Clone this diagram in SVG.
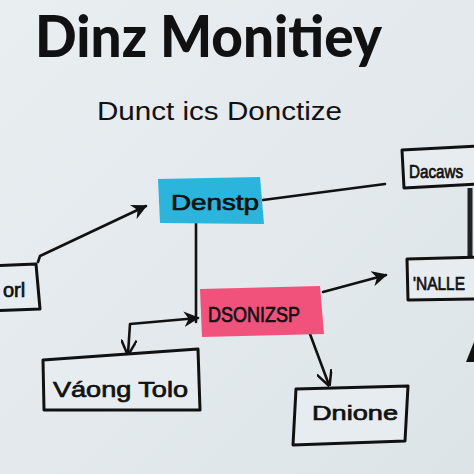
<svg xmlns="http://www.w3.org/2000/svg" width="474" height="474" viewBox="0 0 474 474">
<defs>
<linearGradient id="bg" x1="0" y1="0" x2="1" y2="1">
<stop offset="0" stop-color="#e9eef1"/>
<stop offset="1" stop-color="#dde4e8"/>
</linearGradient>
<marker id="ah" viewBox="0 0 10 10" refX="9" refY="5" markerWidth="6" markerHeight="6" orient="auto-start-reverse">
<path d="M0,0 L10,5 L0,10 L3,5 Z" fill="#111"/>
</marker>
<marker id="av" viewBox="0 0 10 10" refX="9" refY="5" markerWidth="6" markerHeight="6" orient="auto-start-reverse">
<path d="M0,0 L10,5 L0,10" fill="none" stroke="#111" stroke-width="1.6"/>
</marker>
</defs>
<style>
.hand{font-family:"Liberation Sans","DejaVu Sans",sans-serif;fill:#111;stroke:#111;stroke-width:0.7;}
.box{fill:#e6ecef;stroke:#111;stroke-width:3;stroke-linejoin:round;}
.ln{fill:none;stroke:#111;stroke-width:2.6;stroke-linecap:round;stroke-linejoin:round;}
</style>
<rect width="474" height="474" fill="url(#bg)"/>
<text x="35" y="57" font-family="Lato,'Liberation Sans',sans-serif" font-weight="900" font-size="57" fill="#111" textLength="347" lengthAdjust="spacingAndGlyphs">Dinz Monitiey</text>
<text x="97" y="120" font-family="'Liberation Sans','DejaVu Sans',sans-serif" fill="#111" font-size="25" textLength="245" lengthAdjust="spacingAndGlyphs">Dunct ics Donctize</text>
<g id="connectors">
<path class="ln" d="M263,200 L385,184"/>
<path class="ln" d="M196,222 L196,322"/>
<path class="ln" d="M38,262 L40,256 L146,206" marker-end="url(#ah)"/>
<path class="ln" d="M323,292 L386,275" marker-end="url(#ah)"/>
<path class="ln" d="M128,354 L130,324 L198,318" marker-start="url(#av)" marker-end="url(#ah)"/>
<path class="ln" d="M310,334 L329,385" marker-end="url(#av)"/>
<path d="M470,188 L470,258" stroke="#222" stroke-width="5"/>
</g>
<g id="n-denstp">
<path d="M158,179 L260,177 L264,224 L160,223 Z" fill="#2bb5dc"/>
<text class="hand" x="171" y="210" font-size="22" textLength="88" lengthAdjust="spacingAndGlyphs">Denstp</text>
</g>
<g id="n-dsonizsp">
<path d="M200,289 L320,286 L324,334 L202,337 Z" fill="#f1527c"/>
<text class="hand" x="208" y="322" font-size="22" textLength="92" lengthAdjust="spacingAndGlyphs">DSONIZSP</text>
</g>
<g id="n-dacaws">
<path class="box" d="M402,150 L480,146 L480,184 L404,188 Z"/>
<text class="hand" x="409" y="178" font-size="18" textLength="54" lengthAdjust="spacingAndGlyphs">Dacaws</text>
</g>
<g id="n-nalle">
<path class="box" d="M407,259 L480,257 L480,299 L408,300 Z"/>
<text class="hand" x="413" y="290" font-size="18" textLength="52" lengthAdjust="spacingAndGlyphs">'NALLE</text>
</g>
<g id="n-orl">
<path class="box" d="M-10,266 L36,264 L40,309 L-10,311 Z"/>
<text class="hand" x="3" y="297" font-size="20">orl</text>
</g>
<g id="n-vaong">
<path class="box" d="M43,360 L198,349 L200,410 L44,410 Z"/>
<text class="hand" x="53" y="397" font-size="22" textLength="135" lengthAdjust="spacingAndGlyphs">Váong Tolo</text>
</g>
<g id="n-dnione">
<path class="box" d="M296,389 L408,386 L405,441 L293,445 Z"/>
<text class="hand" x="312" y="420" font-size="21" textLength="86" lengthAdjust="spacingAndGlyphs">Dnione</text>
</g>
<path d="M474,342 L466,362 L474,362 Z" fill="#111"/>
</svg>
